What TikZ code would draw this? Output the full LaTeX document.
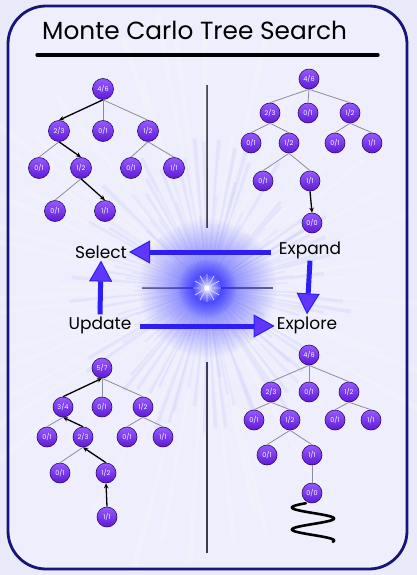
\documentclass[tikz,border=0pt]{standalone}
\usepackage{fontspec}
\setmainfont{Poppins}
\usetikzlibrary{arrows.meta,calc,fadings}
\tikzfading[name=glowfade, inner color=transparent!0, outer color=transparent!100]
\definecolor{frame}{RGB}{25,20,120}
\definecolor{bgc}{RGB}{234,234,250}
\definecolor{inbg}{RGB}{238,238,252}
\definecolor{arr}{RGB}{45,30,245}
\definecolor{arrhead}{RGB}{95,55,255}
\definecolor{nodetop}{RGB}{150,90,255}
\definecolor{nodebot}{RGB}{95,25,215}
\definecolor{nodeline}{RGB}{45,10,105}
\definecolor{rayblue}{RGB}{90,90,255}
\definecolor{glowblue}{RGB}{40,40,255}
\definecolor{edgegray}{RGB}{140,140,155}
\definecolor{sepgray}{RGB}{60,60,70}
\tikzset{
  mc/.style={circle, minimum size=20pt, inner sep=0pt, draw=nodeline, line width=0.6pt,
    top color=nodetop, bottom color=nodebot, text=white, font=\fontsize{6.5}{6.5}\selectfont},
  plainedge/.style={draw=edgegray, line width=0.8pt},
  pathedge/.style={draw=black, line width=1.3pt, -{Stealth[length=5pt,width=4.5pt]}},
  label/.style={font=\fontsize{17}{17}\selectfont, inner sep=2pt},
  bigarrow/.style={draw=arr, line width=5pt, -{Triangle[length=21pt,width=23pt,line width=1pt,fill=arrhead]}},
  sepline/.style={draw=sepgray, line width=2.4pt}
}
\begin{document}
\begin{tikzpicture}[x=1pt,y=-1pt]
\useasboundingbox (0,0) rectangle (417,575);
\fill[bgc] (0,0) rectangle (417,575);
\fill[inbg, rounded corners=38] (8,6) rectangle (407,569);
% separator lines
\draw[sepline] (207,85) -- (207,228);
\draw[sepline] (207,362) -- (207,553);
\draw[draw={rgb,255:red,100;green,100;blue,130}, line width=2.6pt] (142,288) -- (273,288);
% starburst
\coordinate (c) at (207,288);
\pgfmathsetseed{7}
\foreach \i in {0,...,139}{
  \pgfmathsetmacro\a{\i*2.5714+2.5*rnd}
  \pgfmathsetmacro\L{40+110*rnd}
  \fill[rayblue, opacity=0.07] (c) -- ($(c)+(\a-0.8:\L)$) -- ($(c)+(\a+0.8:\L)$) -- cycle;
}
\foreach \i in {0,...,69}{
  \pgfmathsetmacro\a{\i*5.1428+5*rnd}
  \pgfmathsetmacro\L{80+220*rnd}
  \fill[white, opacity=0.22] (c) -- ($(c)+(\a-0.6:\L)$) -- ($(c)+(\a+0.6:\L)$) -- cycle;
}
\fill[glowblue, path fading=glowfade, opacity=0.75] (c) circle (70);
\fill[glowblue, path fading=glowfade] (c) circle (30);
\fill[white, path fading=glowfade] (c) circle (14);
\fill[white] (c) circle (2.5);
\foreach \a in {0,30,...,330}{
  \fill[white, opacity=0.7] (c) -- ($(c)+(\a-2:14)$) -- ($(c)+(\a+2:14)$) -- cycle;
}
% title
\node[font=\fontsize{24.8}{24.8}\selectfont, anchor=west, inner sep=0pt] (title) at (42,30) {Monte Carlo Tree Search};
\draw[line width=3.2pt, line cap=round] (37,55) -- (378,55);
% tree 1 (select)
\begin{scope}[every node/.style={mc, minimum size=21pt}]
\node (a1) at (103,89) {4/6};
\node (a2) at (59,131) {2/3};
\node (a3) at (103,131) {0/1};
\node (a4) at (148,131) {1/2};
\node (a5) at (39,168) {0/1};
\node (a6) at (81,168) {1/2};
\node (a7) at (131,168) {0/1};
\node (a8) at (174,168) {1/1};
\node (a9) at (55,211) {0/1};
\node (a10) at (105,211) {1/1};
\end{scope}
\draw[pathedge] (a1.south) -- (a2.north);
\draw[plainedge] (a1.south) -- (a3.north);
\draw[plainedge] (a1.south) -- (a4.north);
\draw[plainedge] (a2.south) -- (a5.north);
\draw[pathedge] (a2.south) -- (a6.north);
\draw[plainedge] (a4.south) -- (a7.north);
\draw[plainedge] (a4.south) -- (a8.north);
\draw[plainedge] (a6.south) -- (a9.north);
\draw[pathedge] (a6.south) -- (a10.north);
% tree 2 (expand)
\begin{scope}[every node/.style={mc}]
\node (b1) at (309,79) {4/6};
\node (b2) at (270,113) {2/3};
\node (b3) at (308,113) {0/1};
\node (b4) at (350,113) {1/2};
\node (b5) at (251,143) {0/1};
\node (b6) at (289,143) {1/2};
\node (b7) at (335,143) {0/1};
\node (b8) at (372,143) {1/1};
\node (b9) at (263,181) {0/1};
\node (b10) at (310,181) {1/1};
\node (b11) at (312,223) {0/0};
\end{scope}
\foreach \p/\q in {b1/b2,b1/b3,b1/b4,b2/b5,b2/b6,b4/b7,b4/b8,b6/b9,b6/b10}{
  \draw[plainedge] (\p.south) -- (\q.north);
}
\draw[pathedge] (b10.south) -- (b11.north);
% tree 3 (update)
\begin{scope}[every node/.style={mc}]
\node (c1) at (102,368) {5/7};
\node (c2) at (63,407) {3/4};
\node (c3) at (102,407) {0/1};
\node (c4) at (143,407) {1/2};
\node (c5) at (47,437) {0/1};
\node (c6) at (83,437) {2/3};
\node (c7) at (127,437) {0/1};
\node (c8) at (163,437) {1/1};
\node (c9) at (60,473) {0/1};
\node (c10) at (106,473) {1/2};
\node (c11) at (107,517) {1/1};
\end{scope}
\foreach \p/\q in {c1/c3,c1/c4,c2/c5,c4/c7,c4/c8,c6/c9}{
  \draw[plainedge] (\p.south) -- (\q.north);
}
\draw[pathedge] (c2.north) -- (c1.south);
\draw[pathedge] (c6.north) -- (c2.south);
\draw[pathedge] (c10.north) -- (c6.south);
\draw[pathedge] (c11.north) -- (c10.south);
% tree 4 (explore)
\begin{scope}[every node/.style={mc}]
\node (d1) at (309,355) {4/6};
\node (d2) at (271,392) {2/3};
\node (d3) at (309,392) {0/1};
\node (d4) at (349,392) {1/2};
\node (d5) at (254,420) {0/1};
\node (d6) at (290,420) {1/2};
\node (d7) at (335,420) {0/1};
\node (d8) at (371,420) {1/1};
\node (d9) at (267,455) {0/1};
\node (d10) at (312,455) {1/1};
\node (d11) at (312,493) {0/0};
\end{scope}
\foreach \p/\q in {d1/d2,d1/d3,d1/d4,d2/d5,d2/d6,d4/d7,d4/d8,d6/d9,d6/d10,d10/d11}{
  \draw[plainedge] (\p.south) -- (\q.north);
}
% spring
\draw[line width=2.6pt, line cap=round] plot[domain=20:650, samples=140, variable=\t] ({313-21*sin(\t)}, {502+\t/360*22});
% cycle labels
\node[label] (select) at (101,252) {Select};
\node[label] (expand) at (310,250) {Expand};
\node[label] (update) at (100,325) {Update};
\node[label] (explore) at (307,325) {Explore};
\draw[bigarrow] (expand.west) ++(-6,2) coordinate (e1) -- (select.east |- e1);
\draw[bigarrow] (expand.south) -- (explore.north);
\draw[bigarrow] (update.north) -- (select.south);
\draw[bigarrow] ($(update.east)+(6,1)$) coordinate (u1) -- (explore.west |- u1);
% frame
\draw[frame, line width=2.8pt, rounded corners=38] (8,6) rectangle (407,569);
\end{tikzpicture}
\end{document}
